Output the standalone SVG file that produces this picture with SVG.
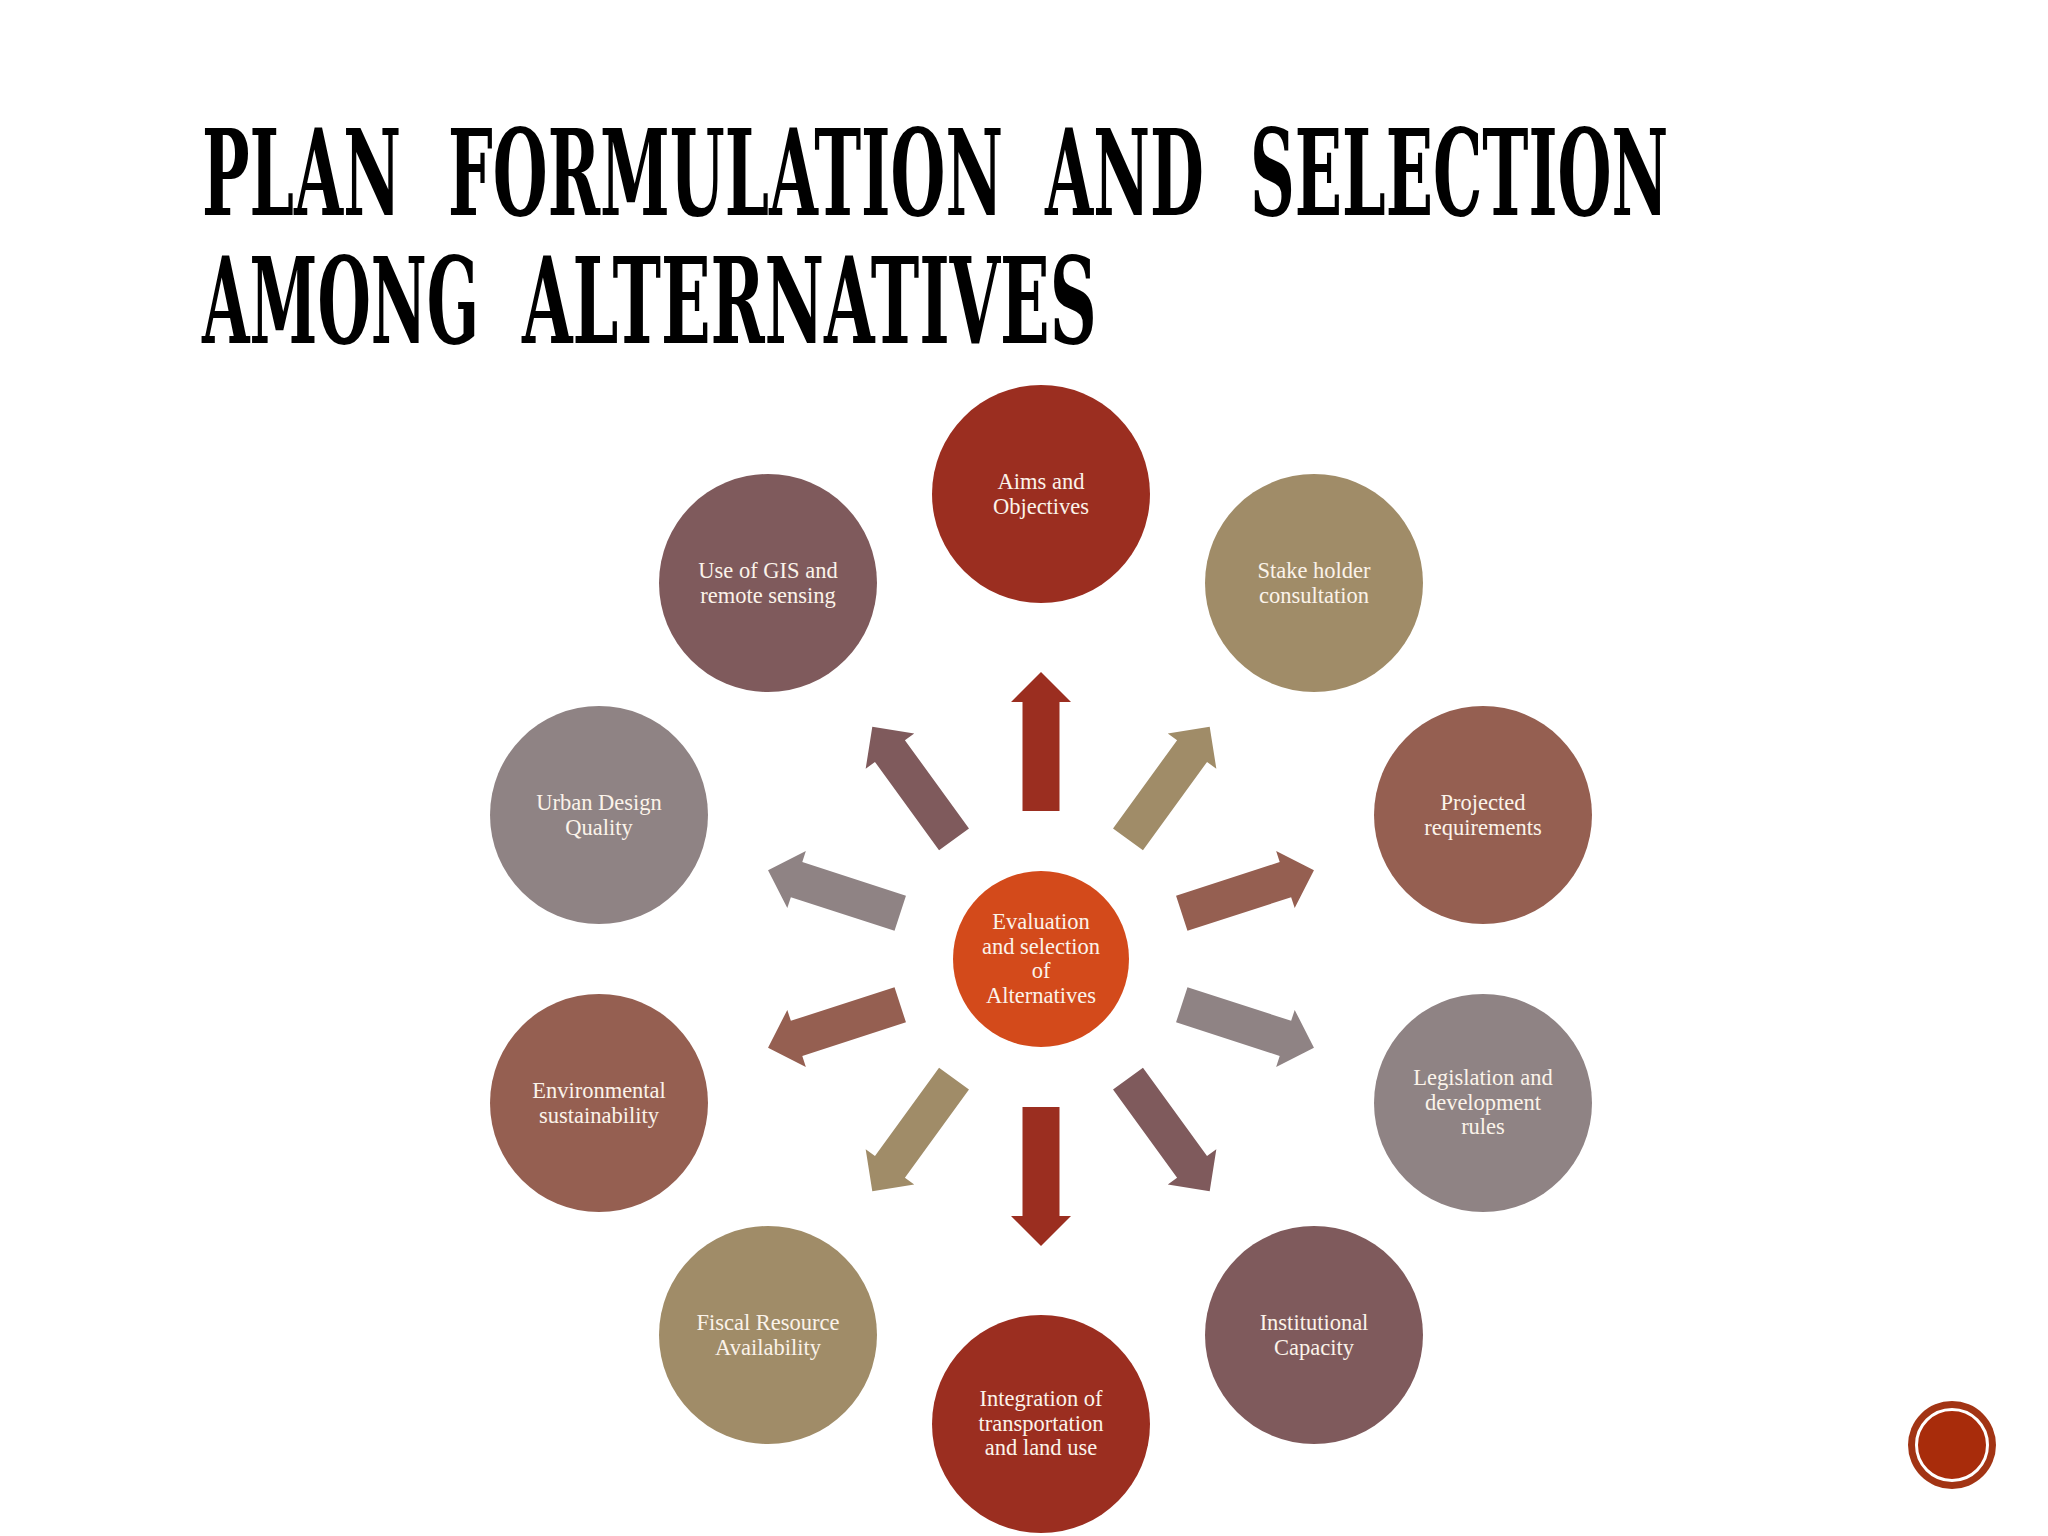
<svg xmlns="http://www.w3.org/2000/svg" width="2048" height="1536" viewBox="0 0 2048 1536">
  <style>
    .title { font-family: "DejaVu Serif Condensed", "DejaVu Serif", serif; font-weight: bold; font-size: 120px; fill: #000; }
    .lbl { font-family: "Liberation Serif", "Times New Roman", serif; font-size: 22.5px; fill: #FBF3EA; text-anchor: middle; }
    .c-red { fill: #9B2E20; }
    .c-khaki { fill: #A08C68; }
    .c-brown { fill: #955F51; }
    .c-gray { fill: #8F8384; }
    .c-mauve { fill: #7F5A5C; }
    .c-center { fill: #D34A1B; }
  </style>
  <defs>
    <polygon id="arrow" points="1022.5,811 1022.5,702 1011,702 1041,672 1071,702 1059.5,702 1059.5,811"/>
  </defs>
  <rect width="2048" height="1536" fill="#FFFFFF"/>

  <g id="title">
    <text class="title" transform="translate(202 215) scale(0.58 1)" x="0" y="0" textLength="343" lengthAdjust="spacingAndGlyphs">PLAN</text>
    <text class="title" transform="translate(448 215) scale(0.58 1)" x="0" y="0" textLength="957" lengthAdjust="spacingAndGlyphs">FORMULATION</text>
    <text class="title" transform="translate(1045 215) scale(0.58 1)" x="0" y="0" textLength="274" lengthAdjust="spacingAndGlyphs">AND</text>
    <text class="title" transform="translate(1250 215) scale(0.58 1)" x="0" y="0" textLength="721" lengthAdjust="spacingAndGlyphs">SELECTION</text>
    <text class="title" transform="translate(202 343) scale(0.58 1)" x="0" y="0" textLength="478" lengthAdjust="spacingAndGlyphs">AMONG</text>
    <text class="title" transform="translate(522 343) scale(0.58 1)" x="0" y="0" textLength="991" lengthAdjust="spacingAndGlyphs">ALTERNATIVES</text>
  </g>

  <g id="connectors">
    <use href="#arrow" class="c-red" transform="rotate(0 1041 959)"/>
    <use href="#arrow" class="c-khaki" transform="rotate(36 1041 959)"/>
    <use href="#arrow" class="c-brown" transform="rotate(72 1041 959)"/>
    <use href="#arrow" class="c-gray" transform="rotate(108 1041 959)"/>
    <use href="#arrow" class="c-mauve" transform="rotate(144 1041 959)"/>
    <use href="#arrow" class="c-red" transform="rotate(180 1041 959)"/>
    <use href="#arrow" class="c-khaki" transform="rotate(216 1041 959)"/>
    <use href="#arrow" class="c-brown" transform="rotate(252 1041 959)"/>
    <use href="#arrow" class="c-gray" transform="rotate(288 1041 959)"/>
    <use href="#arrow" class="c-mauve" transform="rotate(324 1041 959)"/>
  </g>

  <g id="center">
    <circle class="c-center" cx="1041" cy="959" r="88"/>
    <text class="lbl" x="1041" y="929">Evaluation</text>
    <text class="lbl" x="1041" y="953.5">and selection</text>
    <text class="lbl" x="1041" y="978">of</text>
    <text class="lbl" x="1041" y="1002.5">Alternatives</text>
  </g>

  <g id="aims">
    <circle class="c-red" cx="1041" cy="494" r="109"/>
    <text class="lbl" x="1041" y="489">Aims and</text>
    <text class="lbl" x="1041" y="513.5">Objectives</text>
  </g>

  <g id="stakeholder">
    <circle class="c-khaki" cx="1314" cy="583" r="109"/>
    <text class="lbl" x="1314" y="578">Stake holder</text>
    <text class="lbl" x="1314" y="602.5">consultation</text>
  </g>

  <g id="projected">
    <circle class="c-brown" cx="1483" cy="815" r="109"/>
    <text class="lbl" x="1483" y="810">Projected</text>
    <text class="lbl" x="1483" y="834.5">requirements</text>
  </g>

  <g id="legislation">
    <circle class="c-gray" cx="1483" cy="1103" r="109"/>
    <text class="lbl" x="1483" y="1085">Legislation and</text>
    <text class="lbl" x="1483" y="1109.5">development</text>
    <text class="lbl" x="1483" y="1134">rules</text>
  </g>

  <g id="institutional">
    <circle class="c-mauve" cx="1314" cy="1335" r="109"/>
    <text class="lbl" x="1314" y="1330">Institutional</text>
    <text class="lbl" x="1314" y="1354.5">Capacity</text>
  </g>

  <g id="integration">
    <circle class="c-red" cx="1041" cy="1424" r="109"/>
    <text class="lbl" x="1041" y="1406">Integration of</text>
    <text class="lbl" x="1041" y="1430.5">transportation</text>
    <text class="lbl" x="1041" y="1455">and land use</text>
  </g>

  <g id="fiscal">
    <circle class="c-khaki" cx="768" cy="1335" r="109"/>
    <text class="lbl" x="768" y="1330">Fiscal Resource</text>
    <text class="lbl" x="768" y="1354.5">Availability</text>
  </g>

  <g id="environmental">
    <circle class="c-brown" cx="599" cy="1103" r="109"/>
    <text class="lbl" x="599" y="1098">Environmental</text>
    <text class="lbl" x="599" y="1122.5">sustainability</text>
  </g>

  <g id="urban">
    <circle class="c-gray" cx="599" cy="815" r="109"/>
    <text class="lbl" x="599" y="810">Urban Design</text>
    <text class="lbl" x="599" y="834.5">Quality</text>
  </g>

  <g id="gis">
    <circle class="c-mauve" cx="768" cy="583" r="109"/>
    <text class="lbl" x="768" y="578">Use of GIS and</text>
    <text class="lbl" x="768" y="602.5">remote sensing</text>
  </g>

  <g id="badge">
    <circle cx="1952" cy="1445" r="44" fill="#A23414"/>
    <circle cx="1952" cy="1445" r="35.5" fill="#A82C0B" stroke="#FFFFFF" stroke-width="3"/>
  </g>
</svg>
